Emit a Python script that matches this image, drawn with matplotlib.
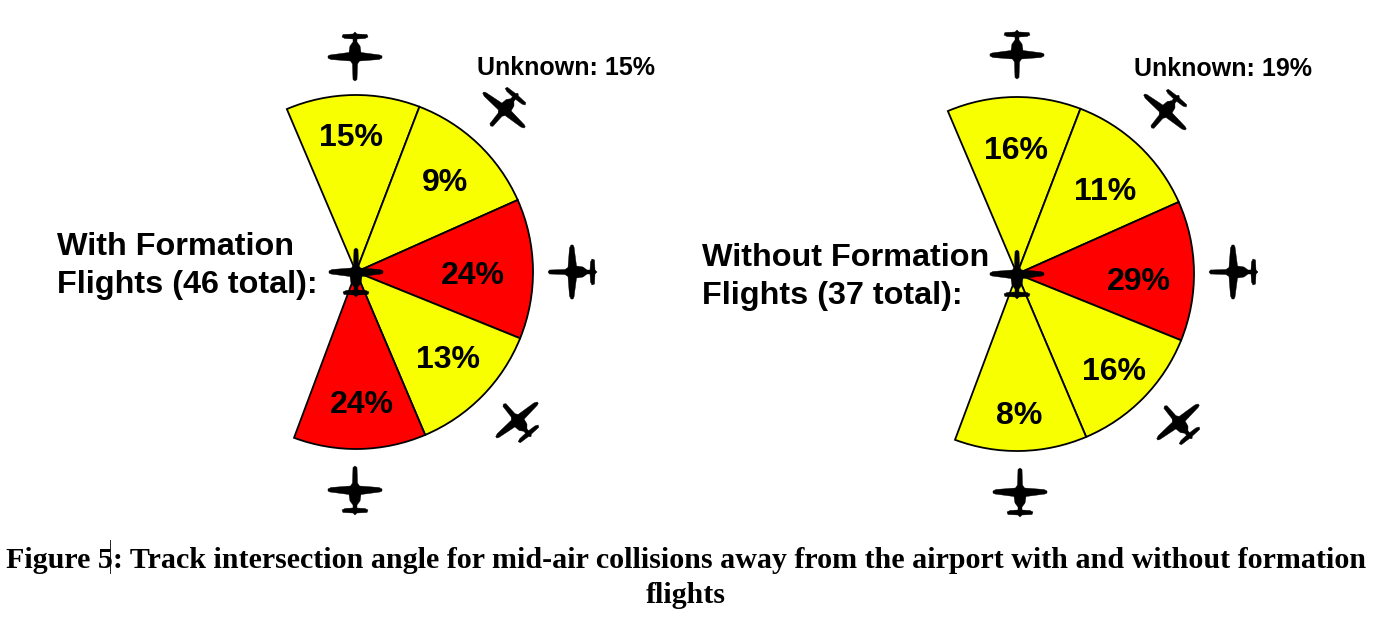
import matplotlib
matplotlib.use("Agg")
import matplotlib.pyplot as plt
from matplotlib.patches import PathPatch
from matplotlib.path import Path
from matplotlib.transforms import Affine2D

W, H = 1379, 618

# sector widths in degrees, clockwise from the upper left edge, last one is the empty part
left_sectors = [44, 45, 46, 45, 43.5]
right_sectors = [44, 45, 46, 45, 43.5]
left_labels = ["15%", "9%", "24%", "13%", "24%"]
right_labels = ["16%", "11%", "29%", "16%", "8%"]
left_colors = ["#F8FF00", "#F8FF00", "#FF0000", "#F8FF00", "#FF0000"]
right_colors = ["#F8FF00", "#F8FF00", "#FF0000", "#F8FF00", "#F8FF00"]
left_unknown = "Unknown: 15%"
right_unknown = "Unknown: 19%"
left_title = "With Formation\nFlights (46 total):"
right_title = "Without Formation\nFlights (37 total):"
caption = ("Figure 5: Track intersection angle for mid-air collisions away from the airport "
           "with and without formation\nflights")

plt.rcParams["font.family"] = "Liberation Sans"

# half outline of the aeroplane, nose up, wing centre at 0,0
half_plane = [(0, 24), (2, 22.5), (2.5, 7), (4.5, 4), (24, 2.5), (27, 1), (27, -1), (25, -2),
              (6, -4.5), (5, -11), (2, -15), (2, -18), (10, -18.5), (13, -20), (12, -22.5),
              (2, -23), (0, -25)]
plane_xy = half_plane + [(-x, y) for x, y in half_plane[-2:0:-1]]
plane_path = Path(plane_xy + [plane_xy[0]], closed=True)

fig = plt.figure(figsize=(W / 100, H / 100), dpi=100)
ax = fig.add_axes([0, 0, 1, 1])


def yy(py):
    return H - py


def plane(px, py, nose, squash=1.0):
    tr = Affine2D().scale(1, squash).rotate_deg(nose - 90).translate(px, yy(py))
    ax.add_patch(PathPatch(plane_path.transformed(tr), fc="black", ec="black", lw=0.3, zorder=5))


def fan(cx, cy, sectors, colors):
    gap = 360 - sum(sectors)
    wedges, _ = ax.pie(sectors + [gap], colors=colors + ["white"], center=(cx, yy(cy)), radius=177,
                       startangle=113, counterclock=False, frame=True,
                       wedgeprops={"edgecolor": "black", "linewidth": 1.3})
    wedges[-1].set_visible(False)


def put_labels(labels, spots):
    for lab, (px, py) in zip(labels, spots):
        ax.text(px, yy(py), lab, fontsize=23, fontweight="bold", ha="center", va="center", zorder=6)


fan(356, 272, left_sectors, left_colors)
fan(1017, 274, right_sectors, right_colors)

put_labels(left_labels, [(351, 138), (445, 183), (473, 276), (448, 360), (362, 405)])
put_labels(right_labels, [(1016, 151), (1105, 192), (1139, 282), (1114, 372), (1019, 416)])

for px, py, nose, sq in [(355, 57, -90, 1), (504, 110, -130, 0.87), (572, 272, 180, 1), (517, 420, 130, 0.87),
                         (355, 490, 90, 1), (356, 272, 90, 1)]:
    plane(px, py, nose, sq)
for px, py, nose, sq in [(1017, 55, -90, 1), (1165, 112, -130, 0.87), (1233, 272, 180, 1), (1178, 422, 130, 0.87),
                         (1020, 492, 90, 1), (1017, 274, 90, 1)]:
    plane(px, py, nose, sq)

ax.text(477, yy(68), left_unknown, fontsize=18, fontweight="bold", va="center")
ax.text(1134, yy(69), right_unknown, fontsize=18, fontweight="bold", va="center")
ax.text(57, yy(266), left_title, fontsize=23.3, fontweight="bold", va="center", linespacing=1.36)
ax.text(702, yy(277), right_title, fontsize=23.3, fontweight="bold", va="center", linespacing=1.36)
ax.text(686, yy(578), caption, family="Liberation Serif", fontsize=21.65, fontweight="bold",
        ha="center", va="center", linespacing=1.37)
ax.plot([110, 110], [yy(540), yy(573)], color="black", lw=0.6)

ax.set_xlim(0, W)
ax.set_ylim(0, H)
ax.set_aspect("equal")
ax.axis("off")
fig.savefig("out.png", dpi=100)
